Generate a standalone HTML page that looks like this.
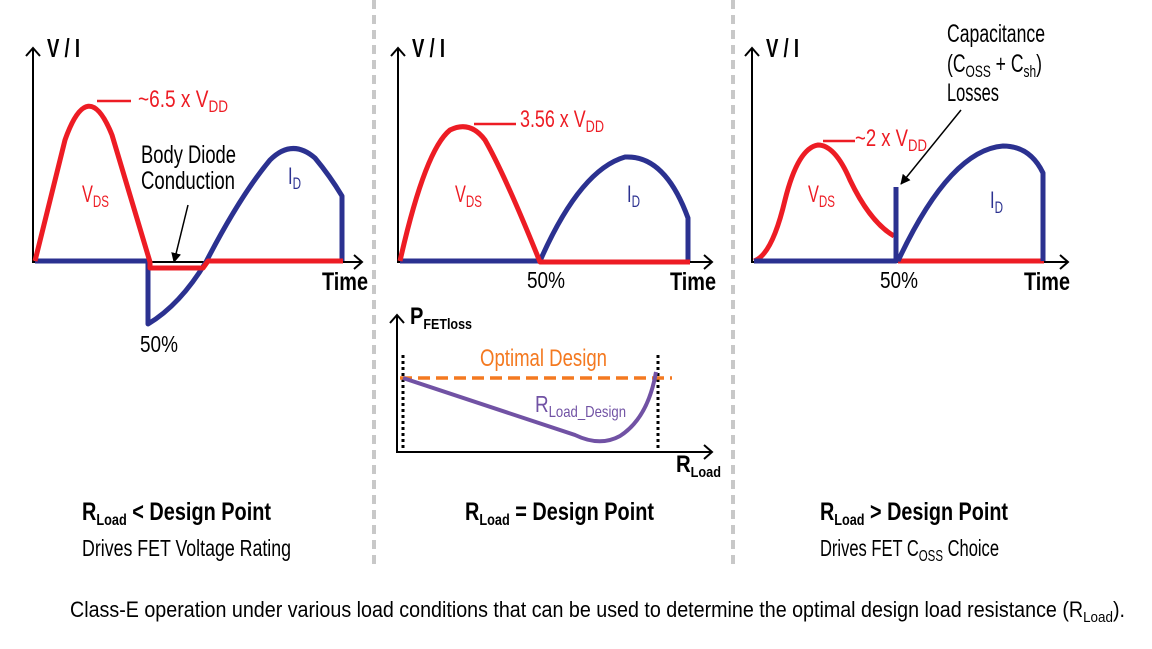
<!DOCTYPE html>
<html><head><meta charset="utf-8"><style>
html,body{margin:0;padding:0;background:#fff;}
svg{display:block;}
text{font-family:"Liberation Sans Narrow","Liberation Sans",sans-serif;}
.b{font-weight:bold;}
</style></head><body>
<svg width="1152" height="649" viewBox="0 0 1152 649" xmlns="http://www.w3.org/2000/svg">
<defs>
<marker id="ar" markerWidth="10" markerHeight="10" refX="9" refY="5" orient="auto" markerUnits="userSpaceOnUse"><path d="M0,0 L10,5 L0,10 z" fill="#000"/></marker>
</defs>
<line x1="374" y1="0" x2="374" y2="565" stroke="#c8c8c8" stroke-width="4" stroke-dasharray="9,6"/>
<line x1="733" y1="0" x2="733" y2="565" stroke="#c8c8c8" stroke-width="4" stroke-dasharray="9,6"/>

<g fill="none" stroke="#000" stroke-width="2">
<path d="M33,48 V262 H362"/><path d="M26,56 L33,48 L40,56"/><path d="M354,255 L362,262 L354,269"/>
<path d="M398,48 V262 H712"/><path d="M391,56 L398,48 L405,56"/><path d="M704,255 L712,262 L704,269"/>
<path d="M752,48 V262 H1068"/><path d="M745,56 L752,48 L759,56"/><path d="M1060,255 L1068,262 L1060,269"/>
<path d="M397,315 V452 H712"/><path d="M390,323 L397,315 L404,323"/><path d="M704,445 L712,452 L704,459"/>
</g>

<g fill="none" stroke-width="5" stroke-linejoin="round">
<path d="M35,261 H148 V324 Q180,305 206,262 Q240,196 270,160 Q292,138 315,158 Q330,176 342,196 V261" stroke="#2b3190"/>
<path d="M35,261 L65,140 Q88,75 112,135 L150,262 V268 H203 L208,261 H343" stroke="#ed1c24"/>
<line x1="97" y1="101" x2="131" y2="101" stroke="#ed1c24" stroke-width="2.5"/>
</g>
<line x1="188" y1="205" x2="174" y2="262" stroke="#000" stroke-width="1.5" marker-end="url(#ar)"/>

<g fill="none" stroke-width="5" stroke-linejoin="round">
<path d="M400,261 H540 Q580,170 625,157 Q665,155 688,218 V261" stroke="#2b3190"/>
<path d="M400,261 Q425,150 450,130 Q470,120 485,140 Q505,175 540,262 H690" stroke="#ed1c24"/>
<line x1="474" y1="124" x2="516" y2="124" stroke="#ed1c24" stroke-width="2.5"/>
</g>

<g fill="none" stroke-width="5" stroke-linejoin="round">
<path d="M754,261 Q772,255 785,200 Q798,148 818,145 Q835,145 850,180 Q870,222 894,236" stroke="#ed1c24"/>
<path d="M898,261 H1044" stroke="#ed1c24"/>
<path d="M754,261 H896 V187" stroke="#2b3190"/>
<path d="M898,261 Q950,150 1003,146 Q1030,146 1043,173 V261" stroke="#2b3190"/>
<line x1="823" y1="141" x2="855" y2="141" stroke="#ed1c24" stroke-width="2.5"/>
</g>
<line x1="961" y1="110" x2="901" y2="184" stroke="#000" stroke-width="1.5" marker-end="url(#ar)"/>

<line x1="403" y1="355" x2="403" y2="450" stroke="#000" stroke-width="3" stroke-dasharray="3,3"/>
<line x1="658" y1="355" x2="658" y2="450" stroke="#000" stroke-width="3" stroke-dasharray="3,3"/>
<line x1="400" y1="378" x2="672" y2="378" stroke="#f47920" stroke-width="3.5" stroke-dasharray="12,6"/>
<path d="M403,378 L575,435 Q600,447 620,436 Q648,418 656,372" fill="none" stroke="#7152a4" stroke-width="4"/>

<g>
<text x="47" y="57" class="b" font-size="26" textLength="33" lengthAdjust="spacingAndGlyphs">V / I</text>
<text x="412" y="57" class="b" font-size="26" textLength="33" lengthAdjust="spacingAndGlyphs">V / I</text>
<text x="766" y="57" class="b" font-size="26" textLength="33" lengthAdjust="spacingAndGlyphs">V / I</text>
<text x="322" y="290" class="b" font-size="25" textLength="46" lengthAdjust="spacingAndGlyphs">Time</text>
<text x="670" y="290" class="b" font-size="25" textLength="46" lengthAdjust="spacingAndGlyphs">Time</text>
<text x="1024" y="290" class="b" font-size="25" textLength="46" lengthAdjust="spacingAndGlyphs">Time</text>

<text x="138" y="107" fill="#ed1c24" font-size="24" textLength="90" lengthAdjust="spacingAndGlyphs">~6.5 x V<tspan font-size="17" dy="5">DD</tspan></text>
<text x="141" y="163" font-size="25" textLength="95" lengthAdjust="spacingAndGlyphs">Body Diode</text>
<text x="141" y="189" font-size="25" textLength="94" lengthAdjust="spacingAndGlyphs">Conduction</text>
<text x="82" y="202" fill="#ed1c24" font-size="24" textLength="27" lengthAdjust="spacingAndGlyphs">V<tspan font-size="17" dy="5">DS</tspan></text>
<text x="288" y="184" fill="#2b3190" font-size="24" textLength="13" lengthAdjust="spacingAndGlyphs">I<tspan font-size="17" dy="5">D</tspan></text>
<text x="140" y="352" font-size="23" textLength="38" lengthAdjust="spacingAndGlyphs">50%</text>

<text x="520" y="127" fill="#ed1c24" font-size="24" textLength="84" lengthAdjust="spacingAndGlyphs">3.56 x V<tspan font-size="17" dy="5">DD</tspan></text>
<text x="455" y="202" fill="#ed1c24" font-size="24" textLength="27" lengthAdjust="spacingAndGlyphs">V<tspan font-size="17" dy="5">DS</tspan></text>
<text x="627" y="202" fill="#2b3190" font-size="24" textLength="13" lengthAdjust="spacingAndGlyphs">I<tspan font-size="17" dy="5">D</tspan></text>
<text x="527" y="288" font-size="23" textLength="38" lengthAdjust="spacingAndGlyphs">50%</text>

<text x="855" y="146" fill="#ed1c24" font-size="24" textLength="72" lengthAdjust="spacingAndGlyphs">~2 x V<tspan font-size="17" dy="5">DD</tspan></text>
<text x="808" y="202" fill="#ed1c24" font-size="24" textLength="27" lengthAdjust="spacingAndGlyphs">V<tspan font-size="17" dy="5">DS</tspan></text>
<text x="990" y="208" fill="#2b3190" font-size="24" textLength="13" lengthAdjust="spacingAndGlyphs">I<tspan font-size="17" dy="5">D</tspan></text>
<text x="880" y="288" font-size="23" textLength="38" lengthAdjust="spacingAndGlyphs">50%</text>
<text x="947" y="42" font-size="25" textLength="98" lengthAdjust="spacingAndGlyphs">Capacitance</text>
<text x="947" y="72" font-size="25" textLength="95" lengthAdjust="spacingAndGlyphs">(C<tspan font-size="17" dy="5">OSS</tspan><tspan dy="-5"> + C</tspan><tspan font-size="17" dy="5">sh</tspan><tspan dy="-5">)</tspan></text>
<text x="947" y="101" font-size="25" textLength="52" lengthAdjust="spacingAndGlyphs">Losses</text>

<text x="410" y="324" class="b" font-size="24" textLength="62" lengthAdjust="spacingAndGlyphs">P<tspan font-size="15" dy="5">FETloss</tspan></text>
<text x="480" y="366" fill="#f47920" font-size="24" textLength="127" lengthAdjust="spacingAndGlyphs">Optimal Design</text>
<text x="535" y="412" fill="#7152a4" font-size="23" textLength="91" lengthAdjust="spacingAndGlyphs">R<tspan font-size="16" dy="5">Load_Design</tspan></text>
<text x="676" y="472" class="b" font-size="24" textLength="45" lengthAdjust="spacingAndGlyphs">R<tspan font-size="15" dy="5">Load</tspan></text>

<text x="82" y="520" class="b" font-size="25" textLength="189" lengthAdjust="spacingAndGlyphs">R<tspan font-size="16" dy="5">Load</tspan><tspan dy="-5"> &lt; Design Point</tspan></text>
<text x="82" y="556" font-size="23" textLength="209" lengthAdjust="spacingAndGlyphs">Drives FET Voltage Rating</text>
<text x="465" y="520" class="b" font-size="25" textLength="189" lengthAdjust="spacingAndGlyphs">R<tspan font-size="16" dy="5">Load</tspan><tspan dy="-5"> = Design Point</tspan></text>
<text x="820" y="520" class="b" font-size="25" textLength="188" lengthAdjust="spacingAndGlyphs">R<tspan font-size="16" dy="5">Load</tspan><tspan dy="-5"> &gt; Design Point</tspan></text>
<text x="820" y="556" font-size="23" textLength="179" lengthAdjust="spacingAndGlyphs">Drives FET C<tspan font-size="16" dy="5">OSS</tspan><tspan dy="-5"> Choice</tspan></text>

<text x="70" y="617" font-size="22" textLength="1055" lengthAdjust="spacingAndGlyphs">Class-E operation under various load conditions that can be used to determine the optimal design load resistance (R<tspan font-size="15" dy="5">Load</tspan><tspan dy="-5">).</tspan></text>
</g>
</svg>
</body></html>
